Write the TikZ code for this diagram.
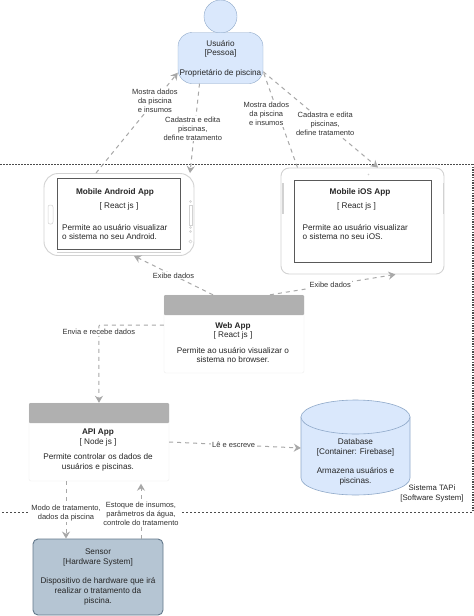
\documentclass[tikz,border=0pt]{standalone}
\usepackage{fontspec}
\setmainfont{Liberation Sans}
\usetikzlibrary{arrows.meta}

\definecolor{azul}{HTML}{DAE8FC}
\definecolor{azulborda}{HTML}{8FA9C9}
\definecolor{cinzaseta}{HTML}{A8A8A8}
\definecolor{cinzatopo}{HTML}{B0B0B0}
\definecolor{cinzaborda}{HTML}{D2D2D2}
\definecolor{sensorfill}{HTML}{B5C5D3}
\definecolor{sensorborda}{HTML}{64798C}

\tikzset{
  txt/.style={font=\fontsize{8.2}{9.7}\selectfont, text=black!85, align=center, inner sep=0pt},
  rotulo/.style={font=\fontsize{7.5}{9}\selectfont, text=black!80, align=center, fill=white, inner sep=1pt},
  caixa/.style={draw=black!7, fill=white, rounded corners=2pt, minimum width=140pt, minimum height=78pt, inner sep=0pt},
  topo/.style={fill=cinzatopo, rounded corners=1pt, minimum width=140pt, minimum height=20pt, inner sep=0pt},
  tela/.style={draw=black!65, line width=0.9pt, fill=white, inner sep=0pt},
  aparelho/.style={draw=cinzaborda, line width=0.9pt, fill=white, inner sep=0pt},
  seta/.style={draw=cinzaseta, line width=1pt, dash pattern=on 4pt off 4pt, -{Stealth[length=7pt,width=8pt]}},
  detalhe/.style={draw=cinzaborda, line width=0.5pt}
}

\begin{document}
\begin{tikzpicture}[x=1pt,y=-1pt]

  % tamanho da figura
  \useasboundingbox (0,0) rectangle (474,616);
  \fill[white] (0,0) rectangle (474,616);

  % limite do sistema
  \draw[black!70, line width=0.6pt, dash pattern=on 1.5pt off 1.5pt] (0,164) -- (473,164);
  \draw[black!70, line width=1.3pt, dash pattern=on 1.3pt off 1.3pt] (473,164) -- (473,512);
  \draw[black!70, line width=0.6pt, dash pattern=on 2pt off 2pt] (2,512.5) -- (473,512.5);
  \node[txt, font=\fontsize{7.8}{10}\selectfont] (sistema) at (432,493) {Sistema TAPi\\{[Software System]}};

  % usuario
  \node[circle, draw=azulborda, fill=azul, minimum size=33pt, inner sep=0pt] (cabeca) at (220.5,16.5) {};
  \node[draw=azulborda, fill=azul, rounded corners=14pt, minimum width=85pt, minimum height=51pt] (usuario) at (220.5,58) {};
  \node[txt] (usuariotxt) at (220.5,58.5) {Usuário\\{[Pessoa]}\\[9.7pt]Proprietário de piscina};

  % celular android
  \node[aparelho, rounded corners=14pt, minimum width=150pt, minimum height=82pt] (android) at (119,214.5) {};
  \node[tela, minimum width=123pt, minimum height=71pt] (androidtela) at (118.5,213.5) {};
  \node[txt, font=\bfseries\fontsize{8.2}{9.7}\selectfont] (androidnome) at (115,192) {Mobile Android App};
  \node[txt] (androidreact) at (119,206) {{[ React js ]}};
  \node[txt, align=left, anchor=north west] (androiddesc) at (62,224) {Permite ao usuário visualizar\\o sistema no seu Android.};
  \draw[detalhe, rounded corners=2pt] (48,205) rectangle (53,224);
  \draw[detalhe] (189,205) rectangle (192,225);
  \draw[detalhe] (190.5,201.5) circle (1pt) (190.5,227.5) circle (1pt) (190.5,231.5) circle (1pt) (190.5,241.5) circle (1.6pt);
  \draw[detalhe] (57,252) -- (181,252);

  % tablet ios
  \node[aparelho, rounded corners=8pt, minimum width=163pt, minimum height=106pt] (ios) at (362.5,221) {};
  \node[tela, minimum width=137pt, minimum height=82pt] (iostela) at (362.5,221) {};
  \node[txt, font=\bfseries\fontsize{8.2}{9.7}\selectfont] (iosnome) at (360,192) {Mobile iOS App};
  \node[txt] (iosreact) at (356.5,206) {{[ React js ]}};
  \node[txt, align=left, anchor=north west] (iosdesc) at (302.5,224) {Permite ao usuário visualizar\\o sistema no seu iOS.};
  \draw[cinzaborda, line width=1.3pt] (283,183) -- (283,214) (443.5,183) -- (443.5,214);
  \fill[cinzaborda] (368.5,174.5) circle (0.8pt);

  % web app
  \node[caixa] (web) at (234,334) {};
  \node[topo, anchor=north] (webtopo) at (web.north) {};
  \node[txt] (webtxt) at (233,342.5) {\textbf{Web App}\\{[ React js ]}\\[5.5pt]Permite ao usuário visualizar o\\sistema no browser.};

  % api app
  \node[caixa] (api) at (99,442) {};
  \node[topo, anchor=north] (apitopo) at (api.north) {};
  \node[txt] (apitxt) at (98,450) {\textbf{API App}\\{[ Node js ]}\\[5pt]Permite controlar os dados de\\usuários e piscinas.};

  % banco de dados
  \node[minimum width=109pt, minimum height=95pt, inner sep=0pt] (banco) at (355.5,447.5) {};
  \draw[draw=azulborda, fill=azul, line width=0.6pt] (301,417) -- (301,478) arc [start angle=180, end angle=360, x radius=54.5pt, y radius=17pt] -- (410,417) -- cycle;
  \draw[draw=azulborda, fill=azul, line width=0.6pt] (355.5,417) ellipse [x radius=54.5pt, y radius=17pt];
  \node[txt] (bancotxt) at (355.5,462) {Database\\{[Container: Firebase]}\\[9.7pt]Armazena usuários e\\piscinas.};

  % sensor
  \node[draw=sensorborda, fill=sensorfill, line width=0.9pt, rounded corners=5pt, minimum width=130pt, minimum height=76pt, inner sep=0pt] (sensor) at (98,577) {};
  \node[txt] (sensortxt) at (98,577) {Sensor\\{[Hardware System]}\\[9.7pt]Dispositivo de hardware que irá\\realizar o tratamento da\\piscina.};

  % setas
  \draw[seta] ([xshift=-23pt]android.north) -- node[rotulo, pos=0.72] (rot1) {Mostra dados\\da piscina\\e insumos} ([yshift=11pt]usuario.south west);
  \draw[seta] ([xshift=-21pt]usuario.south) -- node[rotulo, pos=0.5, xshift=-2pt] (rot2) {Cadastra e edita\\piscinas,\\define tratamento} ([xshift=71pt]android.north);
  \draw[seta, -] ([xshift=-65pt]ios.north) -- node[rotulo, pos=0.56, xshift=-12pt] (rot3) {Mostra dados\\da piscina\\e insumos} ([yshift=12pt]usuario.south east);
  \draw[seta] ([yshift=12pt]usuario.south east) -- node[rotulo, pos=0.54] (rot4) {Cadastra e edita\\piscinas,\\define tratamento} ([xshift=15.5pt]ios.north);
  \draw[seta] ([xshift=-21pt]web.north) -- node[rotulo, pos=0.5] (rot5) {Exibe dados} ([xshift=15pt]android.south);
  \draw[seta] ([xshift=36pt]web.north) -- node[rotulo, pos=0.48] (rot6) {Exibe dados} ([xshift=33pt]ios.south);
  \draw[seta, rounded corners=1pt] ([yshift=48pt]web.south west) -- ([yshift=48pt,xshift=-65pt]web.south west) -- node[rotulo, pos=0.09] (rot7) {Envia e recebe dados} (api.north);
  \draw[seta] (api.east) -- node[rotulo, pos=0.49] (rot8) {Lê e escreve} ([yshift=-0.5pt]banco.west);
  \draw[seta] ([xshift=-33pt]api.south) -- node[rotulo, pos=0.55] (rot9) {Modo de tratamento,\\dados da piscina} ([xshift=-32pt]sensor.north);
  \draw[seta] ([xshift=43pt]sensor.north) -- node[rotulo, pos=0.46] (rot10) {Estoque de insumos,\\parâmetros da água,\\controle do tratamento} ([xshift=42pt,yshift=-2.5pt]api.south);

\end{tikzpicture}
\end{document}
